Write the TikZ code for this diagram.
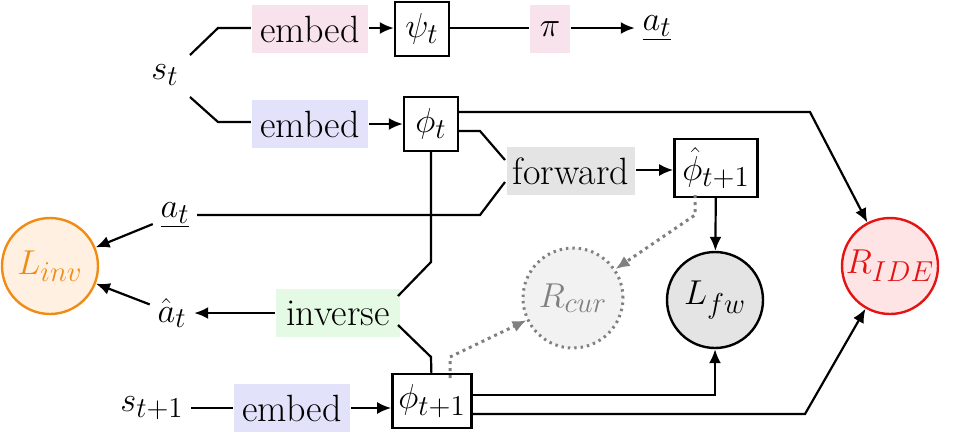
\documentclass[tikz,border=0pt]{standalone}
\usetikzlibrary{arrows.meta}
\definecolor{cpink}{RGB}{248,226,236}
\definecolor{cblue}{RGB}{226,226,250}
\definecolor{cgray}{RGB}{228,228,228}
\definecolor{cgreen}{RGB}{228,250,228}
\definecolor{corange}{RGB}{240,140,20}
\definecolor{corfill}{RGB}{255,240,226}
\definecolor{cred}{RGB}{228,20,20}
\definecolor{credfill}{RGB}{255,228,230}
\begin{document}
\begin{tikzpicture}[x=0.5pt,y=-0.5pt,font=\fontsize{19}{22}\selectfont,
  >={Latex[length=7pt,width=6pt]}, line width=1.1pt,
  lbl/.style={inner sep=0pt, minimum height=24pt, minimum width=58pt},
  box/.style={draw, line width=1.2pt, inner sep=3pt, minimum height=27pt, minimum width=27pt},
  circ/.style={circle, draw, line width=1.2pt, minimum size=48pt, inner sep=0pt}]
\useasboundingbox (0,0) rectangle (968,436);
% states and labels
\node (st) at (165,75) {$s_t$};
\node (st1) at (152,408) {$s_{t+1}$};
\node (at) at (175,215) {$\underline{a_t}$};
\node (atop) at (657,28) {$\underline{a_t}$};
\node (ah) at (172,313) {$\hat a_t$};
\node[lbl, fill=cpink] (emb1) at (310,29) {embed};
\node[lbl, fill=cblue] (emb2) at (310,124) {embed};
\node[lbl, fill=cblue] (emb3) at (292,408) {embed};
\node[lbl, fill=cpink, minimum width=20pt] (pi) at (550,29) {$\pi$};
\node[lbl, fill=cgray, minimum width=64pt] (fwd) at (571,171) {forward};
\node[lbl, fill=cgreen, minimum width=62pt] (inv) at (338,313) {inverse};
\node[box] (psi) at (422,29) {$\psi_t$};
\node[box] (phi) at (431,124) {$\phi_t$};
\node[box] (phi1) at (432,401) {$\phi_{t+1}$};
\node[box, inner sep=4pt] (phih) at (716,168) {$\hat\phi_{t+1}$};
\node[circ, draw=corange, fill=corfill, text=corange] (linv) at (50,266) {$L_{inv}$};
\node[circ, fill=cgray] (lfw) at (715,300) {$L_{fw}$};
\node[circ, draw=cred, fill=credfill, text=cred] (ride) at (890,266) {$R_{IDE}$};
\node[circ, draw=gray, dotted, line width=1.5pt, fill=gray!10, text=gray, minimum size=50pt] (rcur) at (573,298) {$R_{cur}$};
% top branch
\draw (190,55) -- (218,28) -- (emb1.west |- 0,28);
\draw[->] (emb1.east |- 0,28) -- (psi.west |- 0,28);
\draw (psi.east |- 0,28) -- (pi.west |- 0,28);
\draw[->] (pi.east |- 0,28) -- (atop.west |- 0,28);
% lower branch
\draw (190,97) -- (218,122) -- (emb2.west |- 0,122);
\draw[->] (emb2.east |- 0,124) -- (phi.west |- 0,124);
\draw[->] (phi.east |- 0,112) -- (810,112) -- (ride);
\draw (phi.east |- 0,131) -- (480,131) -- (505,160);
\draw (505,182) -- (480,215) -- (at.east);
\draw[->] (fwd.east |- 0,170) -- (phih.west |- 0,170);
\draw[->] (phih) -- (lfw);
\draw[->, gray, dotted, line width=1.5pt] (695,195) -- (695,215) -- (rcur);
\draw (phi) -- (431,262) -- (398,296);
\draw (398,325) -- (431,357) -- (phi1);
\draw[->] (inv) -- (ah);
\draw[->] (at) -- (linv);
\draw[->] (ah) -- (linv);
\draw (st1.east |- 0,408) -- (emb3.west |- 0,408);
\draw[->] (emb3.east |- 0,408) -- (phi1.west |- 0,408);
\draw[->] (phi1.east |- 0,395) -- (715,395) -- (lfw);
\draw[->] (phi1.east |- 0,414) -- (805,414) -- (ride);
\draw[->, gray, dotted, line width=1.5pt] (450,378) -- (450,357) -- (rcur);
\end{tikzpicture}
\end{document}
